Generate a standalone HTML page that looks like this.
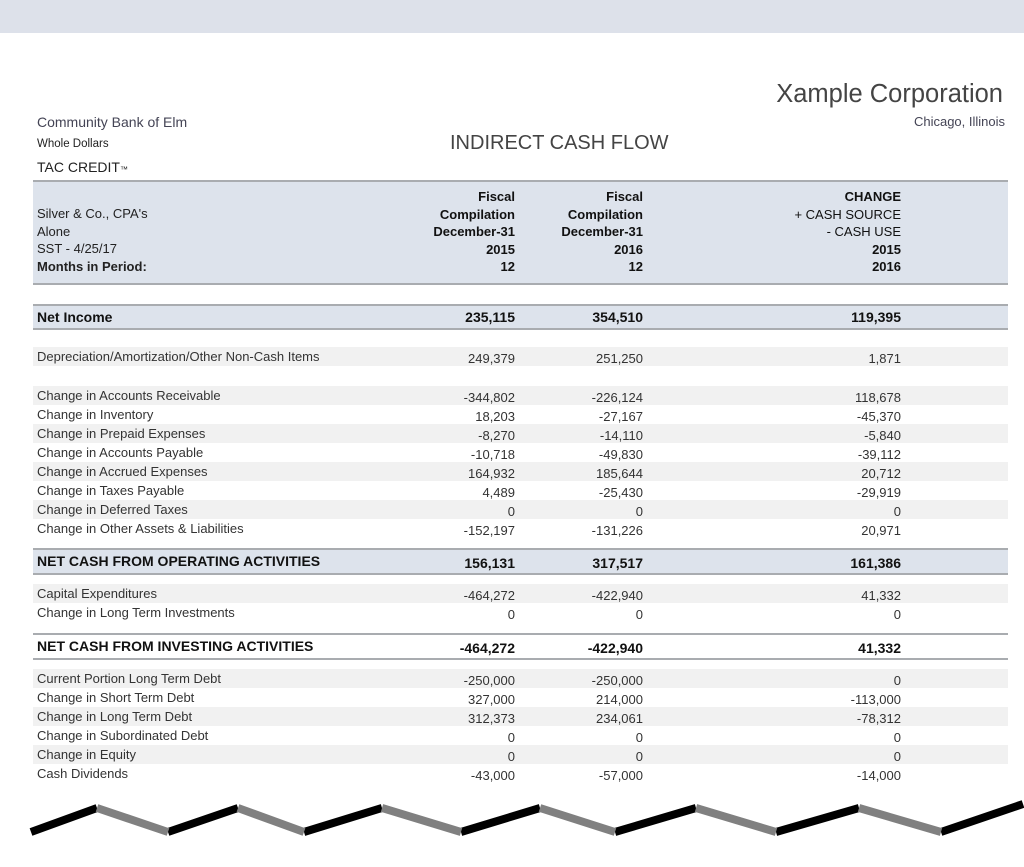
<!DOCTYPE html>
<html><head><meta charset="utf-8"><style>
body{margin:0;width:1024px;height:867px;background:#fff;position:relative;overflow:hidden;font-family:"Liberation Sans",Arial,sans-serif;color:#333}
.a{position:absolute;white-space:nowrap}
.r{position:absolute;left:33px;width:975px;height:19px}
.s{background:#f1f1f1}
.l{position:absolute;left:4px;font-size:13px;line-height:19px}
.v{position:absolute;font-size:13px;line-height:19px;text-align:right;top:2px}
.c1{right:493px}.c2{right:365px}.c3{right:107px}
.band{position:absolute;left:33px;width:975px;border-top:2px solid #a9acb0;border-bottom:2px solid #a9acb0;font-weight:bold;font-size:14px;color:#111}
.band .l,.band .v{font-size:14px;line-height:22px;top:0}
.hd{position:absolute;font-size:13px;line-height:17.5px;text-align:right;font-weight:bold;color:#111}
</style></head><body>
<div class="a" style="left:0;top:0;width:1024px;height:33px;background:#dde1ea"></div>
<div class="a" style="right:21px;top:80px;font-size:25.5px;color:#444">Xample Corporation</div>
<div class="a" style="right:19px;top:114px;font-size:13px;color:#445">Chicago, Illinois</div>
<div class="a" style="left:37px;top:114px;font-size:14px;color:#445">Community Bank of Elm</div>
<div class="a" style="left:37px;top:138px;font-size:11.5px;color:#222">Whole Dollars</div>
<div class="a" style="left:37px;top:159px;font-size:14px;color:#222">TAC CREDIT<span style="font-size:8px">™</span></div>
<div class="a" style="left:450px;top:132px;font-size:20px;color:#444">INDIRECT CASH FLOW</div>

<div class="a" style="left:33px;top:180px;width:975px;height:101px;background:#dde3ec;border-top:2px solid #a9acb0;border-bottom:2px solid #a9acb0"></div>
<div class="a" style="left:37px;top:205px;font-size:13px;line-height:17.5px;color:#222">Silver &amp; Co., CPA's<br>Alone<br>SST - 4/25/17<br><b>Months in Period:</b></div>
<div class="hd" style="right:509px;top:188px">Fiscal<br>Compilation<br>December-31<br>2015<br>12</div>
<div class="hd" style="right:381px;top:188px">Fiscal<br>Compilation<br>December-31<br>2016<br>12</div>
<div class="hd" style="right:123px;top:188px">CHANGE<br><span style="font-weight:normal">+ CASH SOURCE<br>- CASH USE</span><br>2015<br>2016</div>

<div class="band" style="top:304px;height:22px;background:#dde3ec"><span class="l">Net Income</span><span class="v c1">235,115</span><span class="v c2">354,510</span><span class="v c3">119,395</span></div>

<div class="r s" style="top:347px"><span class="l">Depreciation/Amortization/Other Non-Cash Items</span><span class="v c1">249,379</span><span class="v c2">251,250</span><span class="v c3">1,871</span></div>

<div class="r s" style="top:386px"><span class="l">Change in Accounts Receivable</span><span class="v c1">-344,802</span><span class="v c2">-226,124</span><span class="v c3">118,678</span></div>
<div class="r" style="top:405px"><span class="l">Change in Inventory</span><span class="v c1">18,203</span><span class="v c2">-27,167</span><span class="v c3">-45,370</span></div>
<div class="r s" style="top:424px"><span class="l">Change in Prepaid Expenses</span><span class="v c1">-8,270</span><span class="v c2">-14,110</span><span class="v c3">-5,840</span></div>
<div class="r" style="top:443px"><span class="l">Change in Accounts Payable</span><span class="v c1">-10,718</span><span class="v c2">-49,830</span><span class="v c3">-39,112</span></div>
<div class="r s" style="top:462px"><span class="l">Change in Accrued Expenses</span><span class="v c1">164,932</span><span class="v c2">185,644</span><span class="v c3">20,712</span></div>
<div class="r" style="top:481px"><span class="l">Change in Taxes Payable</span><span class="v c1">4,489</span><span class="v c2">-25,430</span><span class="v c3">-29,919</span></div>
<div class="r s" style="top:500px"><span class="l">Change in Deferred Taxes</span><span class="v c1">0</span><span class="v c2">0</span><span class="v c3">0</span></div>
<div class="r" style="top:519px"><span class="l">Change in Other Assets &amp; Liabilities</span><span class="v c1">-152,197</span><span class="v c2">-131,226</span><span class="v c3">20,971</span></div>

<div class="band" style="top:548px;height:23px;background:#dde3ec"><span class="l">NET CASH FROM OPERATING ACTIVITIES</span><span class="v c1" style="top:2px">156,131</span><span class="v c2" style="top:2px">317,517</span><span class="v c3" style="top:2px">161,386</span></div>

<div class="r s" style="top:584px"><span class="l">Capital Expenditures</span><span class="v c1">-464,272</span><span class="v c2">-422,940</span><span class="v c3">41,332</span></div>
<div class="r" style="top:603px"><span class="l">Change in Long Term Investments</span><span class="v c1">0</span><span class="v c2">0</span><span class="v c3">0</span></div>

<div class="band" style="top:633px;height:23px;background:#fff"><span class="l">NET CASH FROM INVESTING ACTIVITIES</span><span class="v c1" style="top:2px">-464,272</span><span class="v c2" style="top:2px">-422,940</span><span class="v c3" style="top:2px">41,332</span></div>

<div class="r s" style="top:669px"><span class="l">Current Portion Long Term Debt</span><span class="v c1">-250,000</span><span class="v c2">-250,000</span><span class="v c3">0</span></div>
<div class="r" style="top:688px"><span class="l">Change in Short Term Debt</span><span class="v c1">327,000</span><span class="v c2">214,000</span><span class="v c3">-113,000</span></div>
<div class="r s" style="top:707px"><span class="l">Change in Long Term Debt</span><span class="v c1">312,373</span><span class="v c2">234,061</span><span class="v c3">-78,312</span></div>
<div class="r" style="top:726px"><span class="l">Change in Subordinated Debt</span><span class="v c1">0</span><span class="v c2">0</span><span class="v c3">0</span></div>
<div class="r s" style="top:745px"><span class="l">Change in Equity</span><span class="v c1">0</span><span class="v c2">0</span><span class="v c3">0</span></div>
<div class="r" style="top:764px"><span class="l">Cash Dividends</span><span class="v c1">-43,000</span><span class="v c2">-57,000</span><span class="v c3">-14,000</span></div>

<svg class="a" style="left:0;top:792px" width="1024" height="60">
<g stroke-width="8" fill="none" stroke-linecap="butt">
<path stroke="#000" d="M31 40L97 16M168 40L238 16M304 40L382 16M461 40L540 16M615 40L696 16M776 40L859 16M941 40L1023 12"/>
<path stroke="#808080" d="M97 16L168 40M238 16L304 40M382 16L461 40M540 16L615 40M696 16L776 40M859 16L941 40"/>
</g></svg>
</body></html>
